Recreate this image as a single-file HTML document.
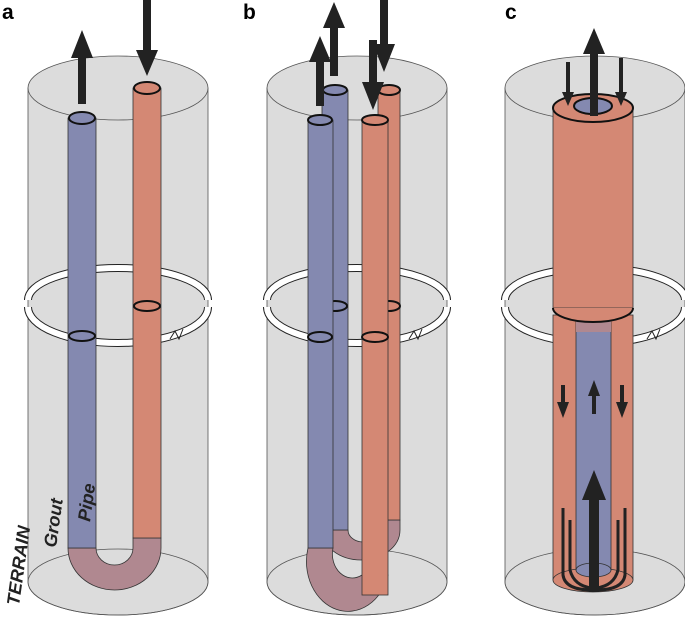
<!DOCTYPE html>
<html><head><style>html,body{margin:0;padding:0;background:#fff}svg{display:block}</style></head><body>
<svg width="685" height="630" viewBox="0 0 685 630" xmlns="http://www.w3.org/2000/svg" font-family="Liberation Sans, sans-serif">
<defs>
<g id="cyl">
<path d="M-90,88 L-90,582 A90,33 0 0 0 90,582 L90,88 Z" fill="#dcdcdc" stroke="#555" stroke-width="0.8"/>
<ellipse cx="0" cy="88" rx="90" ry="32" fill="#dcdcdc" stroke="#555" stroke-width="0.8"/>
<ellipse cx="0" cy="582" rx="90" ry="33" fill="none" stroke="#555" stroke-width="0.8"/>
</g>
<g id="ring">
<path d="M-90,300 A90,32 0 0 1 90,300" fill="none" stroke="#222" stroke-width="8"/>
<path d="M-90,300 A90,32 0 0 1 90,300" fill="none" stroke="#fff" stroke-width="6"/>
<path d="M-90,307 A90,36 0 0 0 90,307" fill="none" stroke="#222" stroke-width="8"/>
<path d="M-90,307 A90,36 0 0 0 90,307" fill="none" stroke="#fff" stroke-width="6"/>
<path d="M52,339 l5,-8 l4,8 l4,-10" fill="none" stroke="#222" stroke-width="1"/>
</g>
</defs>
<text x="2" y="19" font-size="21" font-weight="bold">a</text>
<text x="243" y="19" font-size="21" font-weight="bold">b</text>
<text x="505" y="19" font-size="21" font-weight="bold">c</text>

<!-- A -->
<g transform="translate(118,0)"><use href="#cyl"/><use href="#ring"/></g>
<path d="M68,548 A46.5,42 0 0 0 161,548 L161,538 L133,538 L133,548 A18.5,17 0 0 1 96,548 Z" fill="#b08890" stroke="#333" stroke-width="0.8"/>
<rect x="68" y="118" width="28" height="430" fill="#8489b0" stroke="#333" stroke-width="0.8"/>
<rect x="133" y="88" width="28" height="450" fill="#d48874" stroke="#333" stroke-width="0.8"/>
<ellipse cx="82" cy="118" rx="13" ry="6" fill="#8489b0" stroke="#111" stroke-width="2"/>
<ellipse cx="147" cy="88" rx="13" ry="6" fill="#d48874" stroke="#111" stroke-width="2"/>
<ellipse cx="82" cy="336" rx="13" ry="5" fill="#8489b0" stroke="#111" stroke-width="2"/>
<ellipse cx="147" cy="306" rx="13" ry="5" fill="#d48874" stroke="#111" stroke-width="2"/>
<path d="M78,104 L78,58 L71,58 L82,30 L93,58 L86,58 L86,104Z" fill="#222"/>
<path d="M143,0 L143,50 L136,50 L147,76 L158,50 L151,50 L151,0Z" fill="#222"/>
<text transform="translate(90,522) rotate(-82)" font-size="18" font-weight="bold" font-style="italic" fill="#222">Pipe</text>
<text transform="translate(56,548) rotate(-82)" font-size="18" font-weight="bold" font-style="italic" fill="#222">Grout</text>
<text transform="translate(19,606) rotate(-82)" font-size="18" font-weight="bold" font-style="italic" fill="#222">TERRAIN</text>

<!-- B -->
<g transform="translate(357,0)"><use href="#cyl"/><use href="#ring"/></g>
<path d="M322,530 A39,30 0 0 0 400,530 L400,520 L378,520 L378,530 A15,12 0 0 1 348,530Z" fill="#b08890" stroke="#333" stroke-width="0.8"/>
<path d="M308,548 A40,48 0 0 0 388,575 L362,575 A20,24 0 0 1 333,548Z" fill="#b08890" stroke="#333" stroke-width="0.8"/>
<rect x="322" y="90" width="26" height="440" fill="#8489b0" stroke="#333" stroke-width="0.8"/>
<rect x="378" y="90" width="22" height="430" fill="#d48874" stroke="#333" stroke-width="0.8"/>
<ellipse cx="335" cy="90" rx="12" ry="5" fill="#8489b0" stroke="#111" stroke-width="2"/>
<ellipse cx="389" cy="90" rx="11" ry="5" fill="#d48874" stroke="#111" stroke-width="2"/>
<ellipse cx="335" cy="306" rx="12" ry="5" fill="#8489b0" stroke="#111" stroke-width="2"/>
<ellipse cx="389" cy="306" rx="11" ry="5" fill="#d48874" stroke="#111" stroke-width="2"/>
<rect x="308" y="120" width="25" height="428" fill="#8489b0" stroke="#333" stroke-width="0.8"/>
<rect x="362" y="120" width="26" height="475" fill="#d48874" stroke="#333" stroke-width="0.8"/>
<ellipse cx="320" cy="120" rx="12" ry="5" fill="#8489b0" stroke="#111" stroke-width="2"/>
<ellipse cx="375" cy="120" rx="13" ry="5" fill="#d48874" stroke="#111" stroke-width="2"/>
<ellipse cx="320" cy="337" rx="12" ry="5" fill="#8489b0" stroke="#111" stroke-width="2"/>
<ellipse cx="375" cy="337" rx="13" ry="5" fill="#d48874" stroke="#111" stroke-width="2"/>
<path d="M330,76 L330,28 L323,28 L334,2 L345,28 L338,28 L338,76Z" fill="#222"/>
<path d="M316,106 L316,62 L309,62 L320,36 L331,62 L324,62 L324,106Z" fill="#222"/>
<path d="M380,0 L380,44 L373,44 L384,72 L395,44 L388,44 L388,0Z" fill="#222"/>
<path d="M369,40 L369,82 L362,82 L373,110 L384,82 L377,82 L377,40Z" fill="#222"/>

<!-- C -->
<g transform="translate(595,0)"><use href="#cyl"/><use href="#ring"/></g>
<rect x="553" y="315" width="80" height="265" fill="#d48874" stroke="#333" stroke-width="0.8"/>
<ellipse cx="593" cy="580" rx="40" ry="12" fill="#d48874" stroke="#333" stroke-width="0.8"/>
<rect x="576" y="322" width="35" height="248" fill="#8489b0" stroke="#333" stroke-width="0.8"/>
<ellipse cx="593.5" cy="570" rx="17.5" ry="7" fill="#8489b0" stroke="#333" stroke-width="0.8"/>
<rect x="576" y="318" width="35" height="14" fill="#b08890"/>
<rect x="553" y="108" width="80" height="200" fill="#d48874" stroke="#333" stroke-width="0.8"/>
<path d="M553,308 A40,14 0 0 0 633,308" fill="#d48874" stroke="#111" stroke-width="2"/>
<ellipse cx="593" cy="108" rx="40" ry="14" fill="#d48874" stroke="#111" stroke-width="2"/>
<ellipse cx="593" cy="106" rx="19" ry="8" fill="#8489b0" stroke="#111" stroke-width="2"/>
<path d="M590,116 L590,54 L583,54 L594,28 L605,54 L598,54 L598,116Z" fill="#222"/>
<path d="M566,62 L566,92 L562,92 L568,106 L574,92 L570,92 L570,62Z" fill="#222"/>
<path d="M619,58 L619,92 L615,92 L621,106 L627,92 L623,92 L623,58Z" fill="#222"/>
<path d="M561,385 L561,402 L557,402 L563,418 L569,402 L565,402 L565,385Z" fill="#222"/>
<path d="M620,385 L620,402 L616,402 L622,418 L628,402 L624,402 L624,385Z" fill="#222"/>
<path d="M592,414 L592,396 L588,396 L594,380 L600,396 L596,396 L596,414Z" fill="#222"/>
<path d="M589,592 L589,500 L582,500 L594,470 L606,500 L599,500 L599,592Z" fill="#222"/>
<path d="M563,508 L563,575 Q565,590 592,590 M625,508 L625,575 Q623,590 596,590 M570,520 L570,570 Q574,586 592,588 M618,520 L618,570 Q614,586 596,588" fill="none" stroke="#222" stroke-width="3"/>
</svg>
</body></html>
